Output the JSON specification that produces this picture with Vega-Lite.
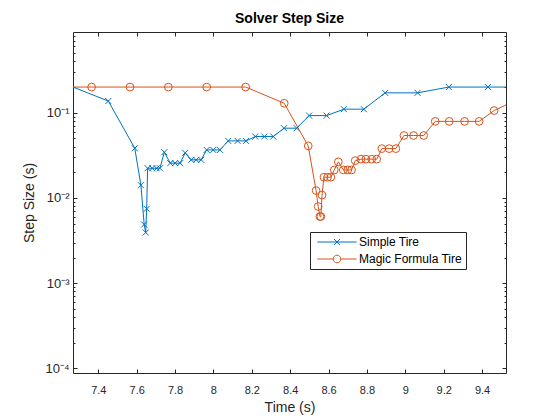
{
  "$schema": "https://vega.github.io/schema/vega-lite/v6.json",
  "width": 433,
  "height": 341,
  "autosize": {"type": "none"},
  "padding": {"left": 73, "top": 32, "right": 54, "bottom": 47},
  "background": "white",
  "view": {"stroke": "#262626", "strokeWidth": 1},
  "config": {
    "font": "Liberation Sans",
    "axis": {"domain": false, "grid": false, "tickColor": "#262626", "labelColor": "#262626", "titleColor": "#262626", "labelFontSize": 10.5, "titleFontSize": 14, "titleFontWeight": "normal", "tickWidth": 1, "labelFont": "Liberation Sans", "titleFont": "Liberation Sans"}
  },
  "title": {"text": "Solver Step Size", "fontSize": 14, "fontWeight": "bold", "color": "black", "offset": 6, "font": "Liberation Sans"},
  "datasets": {
    "d": [
      {"s": "Simple Tire", "t": 7.2, "v": 0.23},
      {"s": "Simple Tire", "t": 7.452, "v": 0.137},
      {"s": "Simple Tire", "t": 7.59, "v": 0.0383},
      {"s": "Simple Tire", "t": 7.622, "v": 0.0141},
      {"s": "Simple Tire", "t": 7.639, "v": 0.00488},
      {"s": "Simple Tire", "t": 7.647, "v": 0.00393},
      {"s": "Simple Tire", "t": 7.652, "v": 0.00745},
      {"s": "Simple Tire", "t": 7.657, "v": 0.0223},
      {"s": "Simple Tire", "t": 7.681, "v": 0.0223},
      {"s": "Simple Tire", "t": 7.704, "v": 0.0223},
      {"s": "Simple Tire", "t": 7.721, "v": 0.0223},
      {"s": "Simple Tire", "t": 7.744, "v": 0.0344},
      {"s": "Simple Tire", "t": 7.775, "v": 0.0256},
      {"s": "Simple Tire", "t": 7.8, "v": 0.0256},
      {"s": "Simple Tire", "t": 7.826, "v": 0.0256},
      {"s": "Simple Tire", "t": 7.853, "v": 0.0338},
      {"s": "Simple Tire", "t": 7.884, "v": 0.028},
      {"s": "Simple Tire", "t": 7.91, "v": 0.028},
      {"s": "Simple Tire", "t": 7.936, "v": 0.028},
      {"s": "Simple Tire", "t": 7.965, "v": 0.0366},
      {"s": "Simple Tire", "t": 7.999, "v": 0.0366},
      {"s": "Simple Tire", "t": 8.034, "v": 0.0366},
      {"s": "Simple Tire", "t": 8.077, "v": 0.0467},
      {"s": "Simple Tire", "t": 8.126, "v": 0.0467},
      {"s": "Simple Tire", "t": 8.17, "v": 0.0467},
      {"s": "Simple Tire", "t": 8.218, "v": 0.0525},
      {"s": "Simple Tire", "t": 8.265, "v": 0.0525},
      {"s": "Simple Tire", "t": 8.312, "v": 0.0525},
      {"s": "Simple Tire", "t": 8.368, "v": 0.0658},
      {"s": "Simple Tire", "t": 8.434, "v": 0.0658},
      {"s": "Simple Tire", "t": 8.499, "v": 0.0925},
      {"s": "Simple Tire", "t": 8.59, "v": 0.0925},
      {"s": "Simple Tire", "t": 8.68, "v": 0.11},
      {"s": "Simple Tire", "t": 8.784, "v": 0.11},
      {"s": "Simple Tire", "t": 8.895, "v": 0.171},
      {"s": "Simple Tire", "t": 9.064, "v": 0.171},
      {"s": "Simple Tire", "t": 9.227, "v": 0.2},
      {"s": "Simple Tire", "t": 9.431, "v": 0.2},
      {"s": "Simple Tire", "t": 9.62, "v": 0.2},
      {"s": "Magic Formula Tire", "t": 7.17, "v": 0.2},
      {"s": "Magic Formula Tire", "t": 7.365, "v": 0.2},
      {"s": "Magic Formula Tire", "t": 7.565, "v": 0.2},
      {"s": "Magic Formula Tire", "t": 7.765, "v": 0.2},
      {"s": "Magic Formula Tire", "t": 7.965, "v": 0.2},
      {"s": "Magic Formula Tire", "t": 8.168, "v": 0.2},
      {"s": "Magic Formula Tire", "t": 8.369, "v": 0.129},
      {"s": "Magic Formula Tire", "t": 8.494, "v": 0.0408},
      {"s": "Magic Formula Tire", "t": 8.535, "v": 0.0122},
      {"s": "Magic Formula Tire", "t": 8.546, "v": 0.00793},
      {"s": "Magic Formula Tire", "t": 8.555, "v": 0.00605},
      {"s": "Magic Formula Tire", "t": 8.56, "v": 0.00605},
      {"s": "Magic Formula Tire", "t": 8.566, "v": 0.0108},
      {"s": "Magic Formula Tire", "t": 8.576, "v": 0.0175},
      {"s": "Magic Formula Tire", "t": 8.595, "v": 0.0175},
      {"s": "Magic Formula Tire", "t": 8.612, "v": 0.0175},
      {"s": "Magic Formula Tire", "t": 8.63, "v": 0.0213},
      {"s": "Magic Formula Tire", "t": 8.651, "v": 0.0265},
      {"s": "Magic Formula Tire", "t": 8.677, "v": 0.0213},
      {"s": "Magic Formula Tire", "t": 8.7, "v": 0.0213},
      {"s": "Magic Formula Tire", "t": 8.72, "v": 0.0213},
      {"s": "Magic Formula Tire", "t": 8.739, "v": 0.0274},
      {"s": "Magic Formula Tire", "t": 8.769, "v": 0.0285},
      {"s": "Magic Formula Tire", "t": 8.795, "v": 0.0285},
      {"s": "Magic Formula Tire", "t": 8.825, "v": 0.0285},
      {"s": "Magic Formula Tire", "t": 8.851, "v": 0.0285},
      {"s": "Magic Formula Tire", "t": 8.878, "v": 0.0379},
      {"s": "Magic Formula Tire", "t": 8.916, "v": 0.0379},
      {"s": "Magic Formula Tire", "t": 8.951, "v": 0.0379},
      {"s": "Magic Formula Tire", "t": 8.993, "v": 0.054},
      {"s": "Magic Formula Tire", "t": 9.043, "v": 0.054},
      {"s": "Magic Formula Tire", "t": 9.096, "v": 0.054},
      {"s": "Magic Formula Tire", "t": 9.156, "v": 0.0791},
      {"s": "Magic Formula Tire", "t": 9.229, "v": 0.0791},
      {"s": "Magic Formula Tire", "t": 9.309, "v": 0.0791},
      {"s": "Magic Formula Tire", "t": 9.385, "v": 0.0791},
      {"s": "Magic Formula Tire", "t": 9.463, "v": 0.106},
      {"s": "Magic Formula Tire", "t": 9.6, "v": 0.148}
    ]
  },
  "layer": [
    {
      "data": {"name": "d"},
      "mark": {"type": "line", "strokeWidth": 1, "clip": true},
      "encoding": {
        "x": {"field": "t", "type": "quantitative", "scale": {"domain": [7.268, 9.525], "nice": false, "zero": false},
          "axis": {"orient": "bottom", "values": [7.4, 7.6, 7.8, 8, 8.2, 8.4, 8.6, 8.8, 9, 9.2, 9.4], "format": "~g", "labelFontSize": 11, "tickSize": -4, "labelPadding": 15, "title": "Time (s)", "titlePadding": 5}},
        "y": {"field": "v", "type": "quantitative", "scale": {"type": "log", "domain": [0.0000883, 0.885], "nice": false},
          "axis": {"orient": "left", "values": [0.0001, 0.001, 0.01, 0.1], "labelExpr": "datum.value == 0.1 ? '10⁻¹' : datum.value == 0.01 ? '10⁻²' : datum.value == 0.001 ? '10⁻³' : '10⁻⁴'", "labelFontSize": 13, "tickSize": -4, "labelPadding": 8, "title": "Step Size (s)", "titlePadding": 8}},
        "color": {"field": "s", "type": "nominal", "scale": {"domain": ["Simple Tire", "Magic Formula Tire"], "range": ["#0072BD", "#D95319"]},
          "legend": {"orient": "none", "legendX": 237, "legendY": 200, "title": null, "strokeColor": "#262626", "fillColor": "white", "padding": 4, "labelFontSize": 12, "labelFont": "Liberation Sans", "labelColor": "black", "symbolSize": 64, "symbolStrokeWidth": 1, "symbolOffset": 17, "labelOffset": 16, "rowPadding": 5, "cornerRadius": 0,
            "encode": {"symbols": {"update": {"shape": {"signal": "datum.value === 'Simple Tire' ? 'M-4.9,0H4.9M-0.75,-0.75L0.75,0.75M-0.75,0.75L0.75,-0.75' : 'M-4.9,0H-0.95A0.95,0.95 0 1,1 0.95,0A0.95,0.95 0 1,1 -0.95,0M0.95,0H4.9'"}, "fill": {"value": "transparent"}, "strokeWidth": {"value": 1}}}}}}
      }
    },
    {
      "data": {"name": "d"},
      "transform": [{"filter": "datum.s === 'Simple Tire'"}],
      "mark": {"type": "point", "filled": false, "strokeWidth": 1, "clip": true, "opacity": 1, "shape": "M-1,-1L1,1M-1,1L1,-1", "size": 36},
      "encoding": {
        "x": {"field": "t", "type": "quantitative", "axis": {"orient": "top", "values": [7.4, 7.6, 7.8, 8, 8.2, 8.4, 8.6, 8.8, 9, 9.2, 9.4], "tickSize": -4, "labels": false, "title": null}},
        "y": {"field": "v", "type": "quantitative", "scale": {"type": "log"}, "axis": {"orient": "right", "values": [0.0001, 0.001, 0.01, 0.1], "tickSize": -4, "labels": false, "title": null}},
        "color": {"field": "s", "type": "nominal"}
      }
    },
    {
      "data": {"name": "d"},
      "transform": [{"filter": "datum.s === 'Magic Formula Tire'"}],
      "mark": {"type": "point", "filled": false, "strokeWidth": 1, "clip": true, "opacity": 1, "shape": "circle", "size": 60},
      "encoding": {
        "x": {"field": "t", "type": "quantitative", "axis": null},
        "y": {"field": "v", "type": "quantitative", "scale": {"type": "log"}, "axis": {"orient": "left", "values": [0.0002, 0.0003, 0.0004, 0.0005, 0.0006, 0.0007, 0.0008, 0.0009, 0.002, 0.003, 0.004, 0.005, 0.006, 0.007, 0.008, 0.009, 0.02, 0.03, 0.04, 0.05, 0.06, 0.07, 0.08, 0.09, 0.2, 0.3, 0.4, 0.5, 0.6, 0.7, 0.8], "tickSize": -2, "labels": false, "title": null}},
        "color": {"field": "s", "type": "nominal"}
      }
    },
    {
      "data": {"name": "d"},
      "mark": {"type": "point", "opacity": 0},
      "encoding": {
        "x": {"field": "t", "type": "quantitative", "axis": null},
        "y": {"field": "v", "type": "quantitative", "scale": {"type": "log"}, "axis": {"orient": "right", "values": [0.0002, 0.0003, 0.0004, 0.0005, 0.0006, 0.0007, 0.0008, 0.0009, 0.002, 0.003, 0.004, 0.005, 0.006, 0.007, 0.008, 0.009, 0.02, 0.03, 0.04, 0.05, 0.06, 0.07, 0.08, 0.09, 0.2, 0.3, 0.4, 0.5, 0.6, 0.7, 0.8], "tickSize": -2, "labels": false, "title": null}}
      }
    }
  ],
  "resolve": {"axis": {"x": "independent", "y": "independent"}}
}
